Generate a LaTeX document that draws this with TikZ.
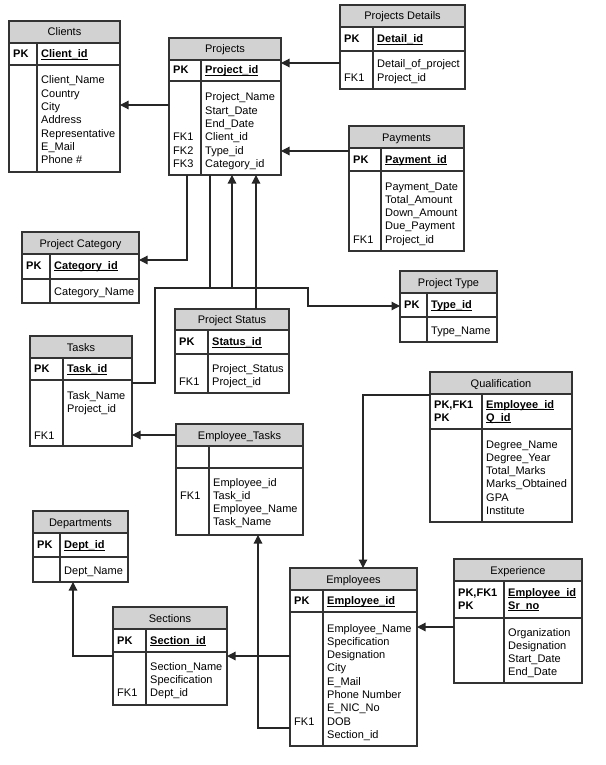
\documentclass[tikz,border=0pt]{standalone}
\usepackage{fontspec}
\setmainfont{Liberation Sans}
\usetikzlibrary{arrows.meta}
\newcommand{\ulk}[1]{\setbox0\hbox{#1}\rlap{\rule[-1.9pt]{\wd0}{0.75pt}}\box0}
\newcommand{\ertab}[9]{%
  \node[tabnode, minimum width={#3-#2}, minimum height={#8-#5}, anchor=north west] (#1) at (#2,#5) {};
  \fill[titlefill] (#2,#5) rectangle (#3,#6);
  \draw[tabline] (#2,#5) rectangle (#3,#8) (#2,#6) -- (#3,#6) (#2,#7) -- (#3,#7) (#4,#6) -- (#4,#8);
  \node[ttl] (#1-t) at ({(#2+#3)/2},{(#5+#6)/2+4}) {#9};
}
\newcommand{\erbody}[4]{%
  \foreach \t [count=\i] in {#4} \node[txt] (#1-\i) at (#2,{#3+13.3*(\i-1)}) {\t};
}
\begin{document}
\begin{tikzpicture}[x=1pt,y=-1pt,
  font=\fontsize{11}{13}\selectfont,
  tabnode/.style={inner sep=0pt, outer sep=0pt},
  tabline/.style={draw=black!80, line width=1.2pt},
  titlefill/.style={fill=gray!35},
  txt/.style={anchor=base west, inner sep=0pt},
  ttl/.style={anchor=base, inner sep=0pt},
  pk/.style={txt, font=\fontsize{11}{13}\selectfont\bfseries},
  fk/.style={draw=black!85, line width=1.2pt, -{Triangle[length=8.5pt,width=8.5pt]}}]
\fill[white] (0,0) rectangle (605,765);
\useasboundingbox (0,0) rectangle (605,765);

% Clients
\ertab{clients}{9}{120}{37}{21}{43}{65}{172}{Clients}
\node[pk] (clients-pk) at (13,57.5) {PK};
\node[pk] (clients-key) at (41,57.5) {\ulk{Client\_id}};
\erbody{clients}{41}{84}{Client\_Name,Country,City,Address,Representative,E\_Mail,Phone \#}

% Projects
\ertab{projects}{169}{281}{201}{38}{60}{81}{175}{Projects}
\node[pk] (projects-pk) at (173,74) {PK};
\node[pk] (projects-key) at (205,74) {\ulk{Project\_id}};
\erbody{projects}{205}{101}{Project\_Name,Start\_Date,End\_Date,Client\_id,Type\_id,Category\_id}
\node[txt] (projects-fk1) at (173,140.9) {FK1};
\node[txt] (projects-fk2) at (173,154.2) {FK2};
\node[txt] (projects-fk3) at (173,167.5) {FK3};

% Projects Details
\ertab{pdetails}{340}{465}{373}{5}{27}{51}{89}{Projects Details}
\node[pk] (pdetails-pk) at (344,42.5) {PK};
\node[pk] (pdetails-key) at (377,42.5) {\ulk{Detail\_id}};
\erbody{pdetails}{377}{68}{Detail\_of\_project,Project\_id}
\node[txt] (pdetails-fk1) at (344,81.3) {FK1};

% Payments
\ertab{payments}{349}{464}{381}{126}{148}{171}{251}{Payments}
\node[pk] (payments-pk) at (353,163) {PK};
\node[pk] (payments-key) at (385,163) {\ulk{Payment\_id}};
\erbody{payments}{385}{190}{Payment\_Date,Total\_Amount,Down\_Amount,Due\_Payment,Project\_id}
\node[txt] (payments-fk1) at (353,243.2) {FK1};

% Project Category
\ertab{pcategory}{22}{139}{50}{232}{254}{279}{303}{Project Category}
\node[pk] (pcategory-pk) at (26,269) {PK};
\node[pk] (pcategory-key) at (54,269) {\ulk{Category\_id}};
\erbody{pcategory}{54}{295}{Category\_Name}

% Project Status
\ertab{pstatus}{175}{289}{208}{309}{330}{354}{393}{Project Status}
\node[pk] (pstatus-pk) at (179,345.5) {PK};
\node[pk] (pstatus-key) at (212,345.5) {\ulk{Status\_id}};
\erbody{pstatus}{212}{372}{Project\_Status,Project\_id}
\node[txt] (pstatus-fk1) at (179,385.3) {FK1};

% Project Type
\ertab{ptype}{400}{497}{427}{271}{293}{317}{342}{Project Type}
\node[pk] (ptype-pk) at (404,308.5) {PK};
\node[pk] (ptype-key) at (431,308.5) {\ulk{Type\_id}};
\erbody{ptype}{431}{334}{Type\_Name}

% Tasks
\ertab{tasks}{30}{132}{63}{336}{358}{380}{446}{Tasks}
\node[pk] (tasks-pk) at (34,372.5) {PK};
\node[pk] (tasks-key) at (67,372.5) {\ulk{Task\_id}};
\erbody{tasks}{67}{399}{Task\_Name,Project\_id}
\node[txt] (tasks-fk1) at (34,439.5) {FK1};

% Employee_Tasks
\ertab{emptasks}{176}{303}{209}{424}{446}{468}{535}{Employee\_Tasks}
\erbody{emptasks}{213}{486}{Employee\_id,Task\_id,Employee\_Name,Task\_Name}
\node[txt] (emptasks-fk1) at (180,499.3) {FK1};

% Departments
\ertab{depts}{33}{128}{60}{511}{533}{557}{582}{Departments}
\node[pk] (depts-pk) at (37,548.5) {PK};
\node[pk] (depts-key) at (64,548.5) {\ulk{Dept\_id}};
\erbody{depts}{64}{574}{Dept\_Name}

% Sections
\ertab{sections}{113}{227}{146}{607}{629}{652}{705}{Sections}
\node[pk] (sections-pk) at (117,644) {PK};
\node[pk] (sections-key) at (150,644) {\ulk{Section\_id}};
\erbody{sections}{150}{670}{Section\_Name,Specification,Dept\_id}
\node[txt] (sections-fk1) at (117,696.6) {FK1};

% Employees
\ertab{employees}{290}{417}{323}{568}{590}{612}{746}{Employees}
\node[pk] (employees-pk) at (294,604.5) {PK};
\node[pk] (employees-key) at (327,604.5) {\ulk{Employee\_id}};
\erbody{employees}{327}{632}{Employee\_Name,Specification,Designation,City,E\_Mail,Phone Number,E\_NIC\_No,DOB,Section\_id}
\node[txt] (employees-fk1) at (294,725.1) {FK1};

% Qualification
\ertab{qual}{430}{572}{482}{372}{394}{429}{522}{Qualification}
\node[pk] (qual-pk1) at (434,408) {PK,FK1};
\node[pk] (qual-pk2) at (434,421) {PK};
\node[pk] (qual-key1) at (486,408) {\ulk{Employee\_id}};
\node[pk] (qual-key2) at (486,421) {\ulk{Q\_id}};
\erbody{qual}{486}{448}{Degree\_Name,Degree\_Year,Total\_Marks,Marks\_Obtained,GPA,Institute}

% Experience
\ertab{exper}{454}{582}{504}{559}{581}{618}{683}{Experience}
\node[pk] (exper-pk1) at (458,596) {PK,FK1};
\node[pk] (exper-pk2) at (458,609) {PK};
\node[pk] (exper-key1) at (508,596) {\ulk{Employee\_id}};
\node[pk] (exper-key2) at (508,609) {\ulk{Sr\_no}};
\erbody{exper}{508}{636}{Organization,Designation,Start\_Date,End\_Date}

% Connectors
\draw[fk] (projects.west |- 0,105) -- (clients.east |- 0,105);
\draw[fk] (pdetails.west |- 0,63) -- (projects.east |- 0,63);
\draw[fk] (payments.west |- 0,151) -- (projects.east |- 0,151);
\draw[fk] (projects.south -| 187,0) |- (pcategory.east |- 0,260);
\draw[fk] (projects.south -| 210,0) -- (210,288) -- (308,288) -- (308,306) -- (ptype.west |- 0,306);
\draw[fk] (tasks.east |- 0,383) -- (155,383) -- (155,288) -- (232,288) -- (projects.south -| 232,0);
\draw[fk] (pstatus.north -| 256,0) -- (projects.south -| 256,0);
\draw[fk] (emptasks.west |- 0,435) -- (tasks.east |- 0,435);
\draw[fk] (sections.west |- 0,656) -| (depts.south -| 73,0);
\draw[fk] (employees.west |- 0,656) -- (sections.east |- 0,656);
\draw[fk] (employees.west |- 0,728) -| (emptasks.south -| 258,0);
\draw[fk] (qual.west |- 0,395) -| (employees.north -| 363,0);
\draw[fk] (exper.west |- 0,627) -- (employees.east |- 0,627);
\end{tikzpicture}
\end{document}
